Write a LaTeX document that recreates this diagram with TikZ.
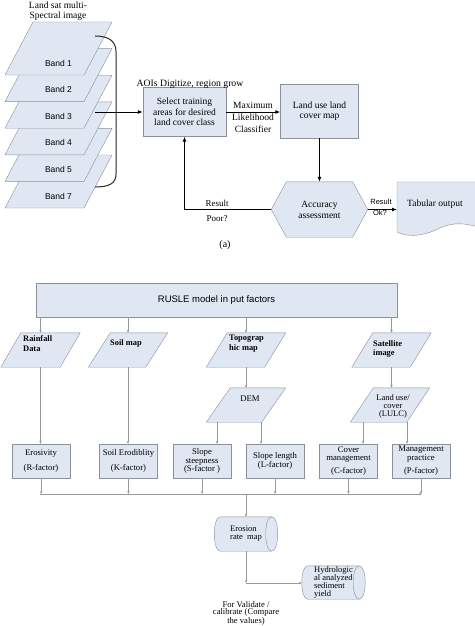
\documentclass[tikz,border=0pt]{standalone}
\usepackage{fontspec}
\setmainfont{Liberation Serif}
\setsansfont{Liberation Sans}
\usetikzlibrary{arrows.meta,backgrounds}
\definecolor{boxfill}{HTML}{DFE7F2}
\definecolor{edge}{HTML}{8C9099}
\definecolor{lgray}{HTML}{9A9A9A}
\begin{document}
\begin{tikzpicture}[x=1pt,y=-1pt,
  box/.style={draw=edge, fill=boxfill, inner sep=0pt, align=center, font=\fontsize{9.5}{10.5}\selectfont},
  bandlbl/.style={inner sep=0pt, font=\sffamily\fontsize{8.5}{10}\selectfont},
  arr/.style={draw=black, line width=0.9pt, -{Latex[length=5pt,width=4pt]}},
  para/.style={rectangle, draw=none, inner sep=0pt, minimum width=79pt, minimum height=34pt},
  fbox/.style={draw=edge, fill=boxfill, inner sep=0pt, minimum width=58pt, minimum height=34pt, align=center, font=\fontsize{8.7}{8.5}\selectfont},
  conn/.style={draw=lgray, line width=0.6pt, -{Stealth[length=3pt,width=2.5pt]}},
  txt/.style={inner sep=0pt, align=center, font=\fontsize{9}{10}\selectfont},
  ptxt/.style={inner sep=0pt, align=left, font=\bfseries\fontsize{8.4}{10}\selectfont},
  cyl/.style={rectangle, draw=none, inner sep=0pt, align=left, font=\fontsize{8.5}{8}\selectfont},
]
\begin{pgfonlayer}{background}
\fill[white] (0,0) rectangle (474,626);
\end{pgfonlayer}
\useasboundingbox (0,0) rectangle (474,626);

% ---------- part (a) ----------
\node[txt, font=\fontsize{9.5}{10}\selectfont] (title) at (58,11) {Land sat multi-\\Spectral image};

\foreach \i/\lab in {5/Band 7,4/Band 5,3/Band 4,2/Band 3,1/Band 2,0/Band 1} {
  \pgfmathsetmacro\t{22+26.6*\i}
  \draw[draw=edge, fill=boxfill] (33,\t) -- (112,\t) -- (84,\t+53) -- (5,\t+53) -- cycle;
  \node[bandlbl] (band\i) at (58.5,\t+41) {\lab};
}
\draw[line width=1pt, draw=black!85] (95,36) .. controls (110,36) and (116,42) .. (116,52) -- (116,174) .. controls (116,183) and (110,187) .. (95,187);

\node[box, minimum width=83pt, minimum height=49pt] (select) at (184.5,112) {Select training\\areas for desired\\land cover class};
\node[txt, font=\fontsize{9.7}{11}\selectfont] (aoi) at (190,84) {AOIs Digitize, region grow};
\coordinate (b3) at (95,112);
\draw[arr] (b3) -- (select.west);

\node[box, minimum width=78pt, minimum height=54pt] (map) at (319.5,111) {Land use land\\cover map};
\draw[arr] (select.east) -- (select.east -| map.west);
\node[txt, font=\fontsize{9.5}{12}\selectfont] (mlc) at (253,117) {Maximum\\Likelihood\\Classifier};

\node[txt, minimum width=96pt, minimum height=55pt, font=\fontsize{9.5}{11}\selectfont] (acc) at (319.5,209.5) {Accuracy\\assessment};
\begin{pgfonlayer}{background}
\draw[draw=edge, fill=boxfill] (acc.west) -- ([xshift=15pt]acc.north west) -- ([xshift=-15pt]acc.north east) -- (acc.east) -- ([xshift=-15pt]acc.south east) -- ([xshift=15pt]acc.south west) -- cycle;
\end{pgfonlayer}
\draw[arr] (map.south) -- (acc.north);
\draw[arr] (acc.west) -| (select.south);
\node[txt] (res1) at (217,203) {Result};
\node[txt] (poor) at (217,219) {Poor?};

\node[txt, font=\fontsize{9.5}{11}\selectfont] (tab) at (435,204) {Tabular output};
\begin{pgfonlayer}{background}
\draw[draw=edge, fill=boxfill] (397,182) -- (480,182) -- (480,227.5) .. controls (468,224) and (455,221) .. (440,228) .. controls (428,234) and (412,239) .. (397,232) -- cycle;
\end{pgfonlayer}
\coordinate (tabL) at (397,209.5);
\draw[arr] (acc.east) -- (tabL);
\node[inner sep=0pt, font=\sffamily\fontsize{7.5}{8}\selectfont] (ok1) at (381,202) {Result};
\node[inner sep=0pt, font=\sffamily\fontsize{7.5}{8}\selectfont] (ok2) at (380,213) {Ok?};

\node[txt, font=\fontsize{10}{11}\selectfont] (lbla) at (225,245) {(a)};

% ---------- part (b) ----------
\node[box, minimum width=361pt, minimum height=34pt, font=\sffamily\fontsize{9.5}{11}\selectfont] (rusle) at (216.5,300) {RUSLE model in put factors};

\node[para] (rain) at (40.5,350) {};
\node[para] (soil) at (128,350) {};
\node[para] (topo) at (246,350) {};
\node[para] (sat) at (391.5,350) {};
\node[para] (dem) at (246,405) {};
\node[para] (lulc) at (390,405) {};
\begin{pgfonlayer}{background}
\foreach \n/\s in {rain/20,soil/22,topo/21,sat/21,dem/24,lulc/23} {
  \draw[draw=edge, fill=boxfill] ([xshift=\s pt]\n.north west) -- (\n.north east) -- ([xshift=-\s pt]\n.south east) -- (\n.south west) -- cycle;
}
\end{pgfonlayer}

\node[ptxt, anchor=west] (raint) at (23,344) {Rainfall\\Data};
\node[ptxt, anchor=west] (soilt) at (110,343) {Soil map};
\node[ptxt, anchor=west] (topot) at (229,344) {Topograp\\hic map};
\node[ptxt, anchor=west, font=\bfseries\fontsize{8.4}{8.5}\selectfont] (satt) at (373,349) {Satellite\\image};
\node[txt, font=\fontsize{8.7}{9}\selectfont] (demt) at (250,399) {DEM};
\node[txt, font=\fontsize{8.5}{8}\selectfont] (lulct) at (393,406) {Land use/\\cover\\(LULC)};

\node[fbox] (ero) at (41,461) {Erosivity\\[6pt](R-factor)};
\node[fbox] (kfac) at (128.5,461) {Soil Erodiblity\\[6pt](K-factor)};
\node[fbox] (sfac) at (202,461) {Slope\\steepness\\(S-factor )};
\node[fbox] (lfac) at (275,461) {Slope length\\(L-factor)};
\node[fbox] (cfac) at (348.5,461) {Cover\\management\\[4pt](C-factor)};
\node[fbox] (pfac) at (421,461) {Management\\practice\\[5pt](P-factor)};

\draw[conn] (rain.north |- rusle.south) -- (rain.north);
\draw[conn] (soil.north |- rusle.south) -- (soil.north);
\draw[conn] (topo.north |- rusle.south) -- (topo.north);
\draw[conn] (sat.north |- rusle.south) -- (sat.north);

\draw[conn] (rain.south) -- (rain.south |- ero.north);
\draw[conn] (soil.south) -- (soil.south |- kfac.north);
\draw[conn] (topo.south) -- (dem.north);
\draw[conn] (sat.south) -- (sat.south |- lulc.north);
\draw[conn] ([xshift=-29pt]dem.south) -- ([xshift=-29pt]dem.south |- sfac.north);
\draw[conn] ([xshift=15pt]dem.south) -- ([xshift=15pt]dem.south |- lfac.north);
\draw[conn] ([xshift=-27pt]lulc.south) -- ([xshift=-27pt]lulc.south |- cfac.north);
\draw[conn] ([xshift=17pt]lulc.south) -- ([xshift=17pt]lulc.south |- pfac.north);

\coordinate (cL) at (40,494);
\coordinate (cR) at (422,494);
\coordinate (cM) at (246,494);
\foreach \n in {ero,kfac,sfac,lfac,cfac,pfac} {
  \draw[conn] (\n.south) -- (\n.south |- cL);
}
\draw[conn] (cL) -- (cR);

\node[cyl, minimum width=63pt, minimum height=34pt] (erosion) at (246,534) {Erosion\\rate~~map};
\node[cyl, minimum width=63pt, minimum height=33pt] (hydro) at (333.5,582.5) {Hydrologic\\al analyzed\\sediment\\yield};
\begin{pgfonlayer}{background}
\foreach \n in {erosion,hydro} {
  \draw[draw=edge, fill=boxfill] ([xshift=6pt]\n.north west) -- ([xshift=-6pt]\n.north east)
    .. controls ([xshift=2pt]\n.north east) and ([xshift=2pt]\n.south east) .. ([xshift=-6pt]\n.south east)
    -- ([xshift=6pt]\n.south west)
    .. controls ([xshift=-2pt]\n.south west) and ([xshift=-2pt]\n.north west) .. cycle;
  \draw[draw=edge] ([xshift=-6pt]\n.north east) .. controls ([xshift=-14pt]\n.north east) and ([xshift=-14pt]\n.south east) .. ([xshift=-6pt]\n.south east);
}
\end{pgfonlayer}
\draw[conn] (cM) -- (cM |- erosion.north);
\coordinate (jn) at (246,583);
\draw[conn] (jn |- erosion.south) -- (jn);
\draw[conn] (jn) -- (jn -| hydro.west);

\node[txt, font=\fontsize{8.6}{7.6}\selectfont] (valid) at (246,613.5) {For Validate /\\calibrate (Compare\\the values)};
\end{tikzpicture}
\end{document}
